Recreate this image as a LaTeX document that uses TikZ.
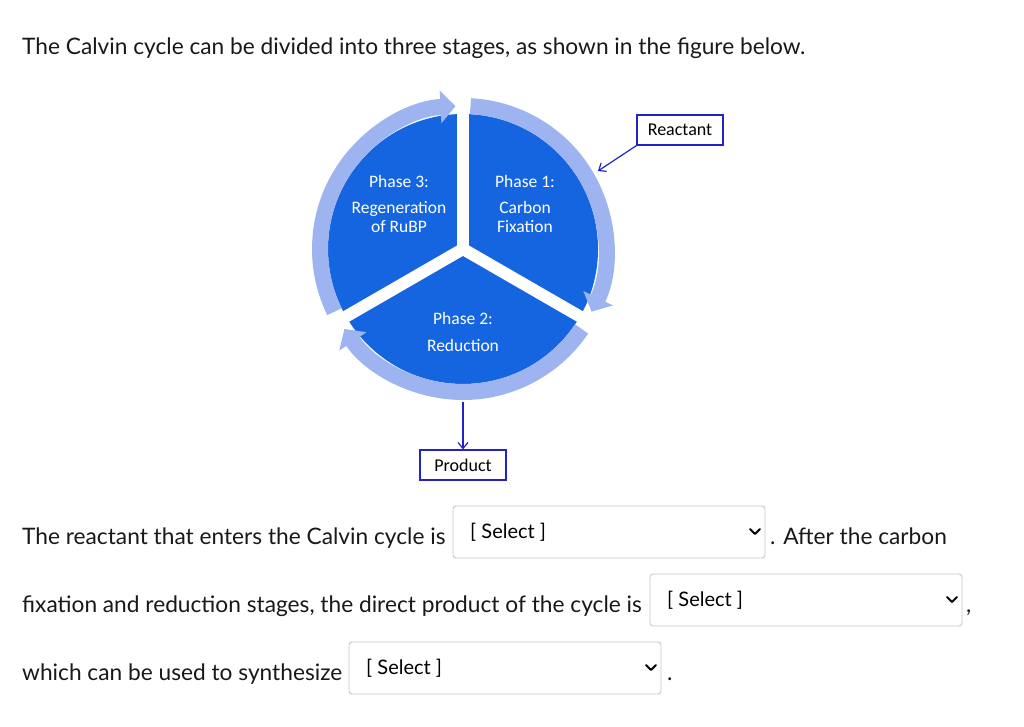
\documentclass[tikz,border=0pt]{standalone}
\usepackage{fontspec}
\setmainfont{Lato}
\newfontfamily\calib{Carlito}
\usetikzlibrary{arrows.meta}
\definecolor{disc}{HTML}{1565E0}
\definecolor{ring}{HTML}{9DB4F0}
\definecolor{lnk}{HTML}{2222C8}
\definecolor{selb}{HTML}{C8C8C8}
\tikzset{
  body/.style={anchor=base west,inner sep=0pt,font=\fontsize{22.7}{27}\selectfont,text=black!90},
  lab/.style={align=center,text=white,font=\calib\fontsize{17.5}{19.5}\selectfont},
  tag/.style={draw=lnk,line width=1.2pt,minimum width=86pt,minimum height=30pt,inner sep=0pt,font=\calib\fontsize{18}{20}\selectfont},
  ringarc/.style={draw=ring,line width=16pt,-{Triangle[length={15pt 0 0},width={32pt 0 0}]}},
  gap/.style={draw=white,line width=12pt},
  sel/.style={draw=selb,rounded corners=3pt,line width=0.9pt,minimum width=312pt,minimum height=52pt,inner sep=0pt},
  seltxt/.style={anchor=base west,inner sep=0pt,font=\fontsize{20}{24}\selectfont},
  chev/.style={line width=2pt,line cap=round,line join=round}
}
\begin{document}
\begin{tikzpicture}[x=1pt,y=1pt]
\useasboundingbox[fill=white] (0,0) rectangle (1024,726);
\node[body] (title) at (22,671) {The Calvin cycle can be divided into three stages, as shown in the figure below.};
% cycle
\coordinate (C) at (463,477);
\fill[disc] (C) circle[radius=135];
\foreach \a in {90,-30,210} \draw[gap] (C) -- ++(\a:160);
\draw[ringarc] (C) ++(87:143) arc[start angle=87,end angle=-26,radius=143];
\draw[ringarc] (C) ++(-34:143) arc[start angle=-34,end angle=-146,radius=143];
\draw[ringarc] (C) ++(206:143) arc[start angle=206,end angle=93,radius=143];
\node[lab] (p3) at (399,522) {Phase 3:\\[6pt]Regeneration\\of RuBP};
\node[lab] (p1) at (525,522) {Phase 1:\\[6pt]Carbon\\Fixation};
\node[lab] (p2) at (463,394) {Phase 2:\\[7pt]Reduction};
\node[tag] (react) at (680,596) {Reactant};
\node[tag] (prod) at (463,261) {Product};
\coordinate (rin) at (598,555);
\coordinate (pout) at (463,324);
\draw[lnk,line width=1.2pt,-{Straight Barb[length=6pt,width=10pt]}] (react.south west) -- (rin);
\draw[lnk,line width=1.2pt,-{Straight Barb[length=6pt,width=10pt]}] (pout) -- (prod.north);
% text with selects
\node[body] (l1) at (22,182) {The reactant that enters the Calvin cycle is};
\node[sel] (s1) at (609,194) {};
\node[seltxt] (s1t) at (470,188) {[ Select ]};
\draw[chev] (750,197) -- (755,192) -- (760,197);
\node[body] (l1b) at (770,182) {. After the carbon};
\node[body] (l2) at (22,114) {fixation and reduction stages, the direct product of the cycle is};
\node[sel] (s2) at (806,126) {};
\node[seltxt] (s2t) at (667,120) {[ Select ]};
\draw[chev] (947,129) -- (952,124) -- (957,129);
\node[body] (l2b) at (966,114) {,};
\node[body] (l3) at (22,46) {which can be used to synthesize};
\node[sel] (s3) at (505,58) {};
\node[seltxt] (s3t) at (366,52) {[ Select ]};
\draw[chev] (646,61) -- (651,56) -- (656,61);
\node[body] (l3b) at (667,46) {.};
\end{tikzpicture}
\end{document}
